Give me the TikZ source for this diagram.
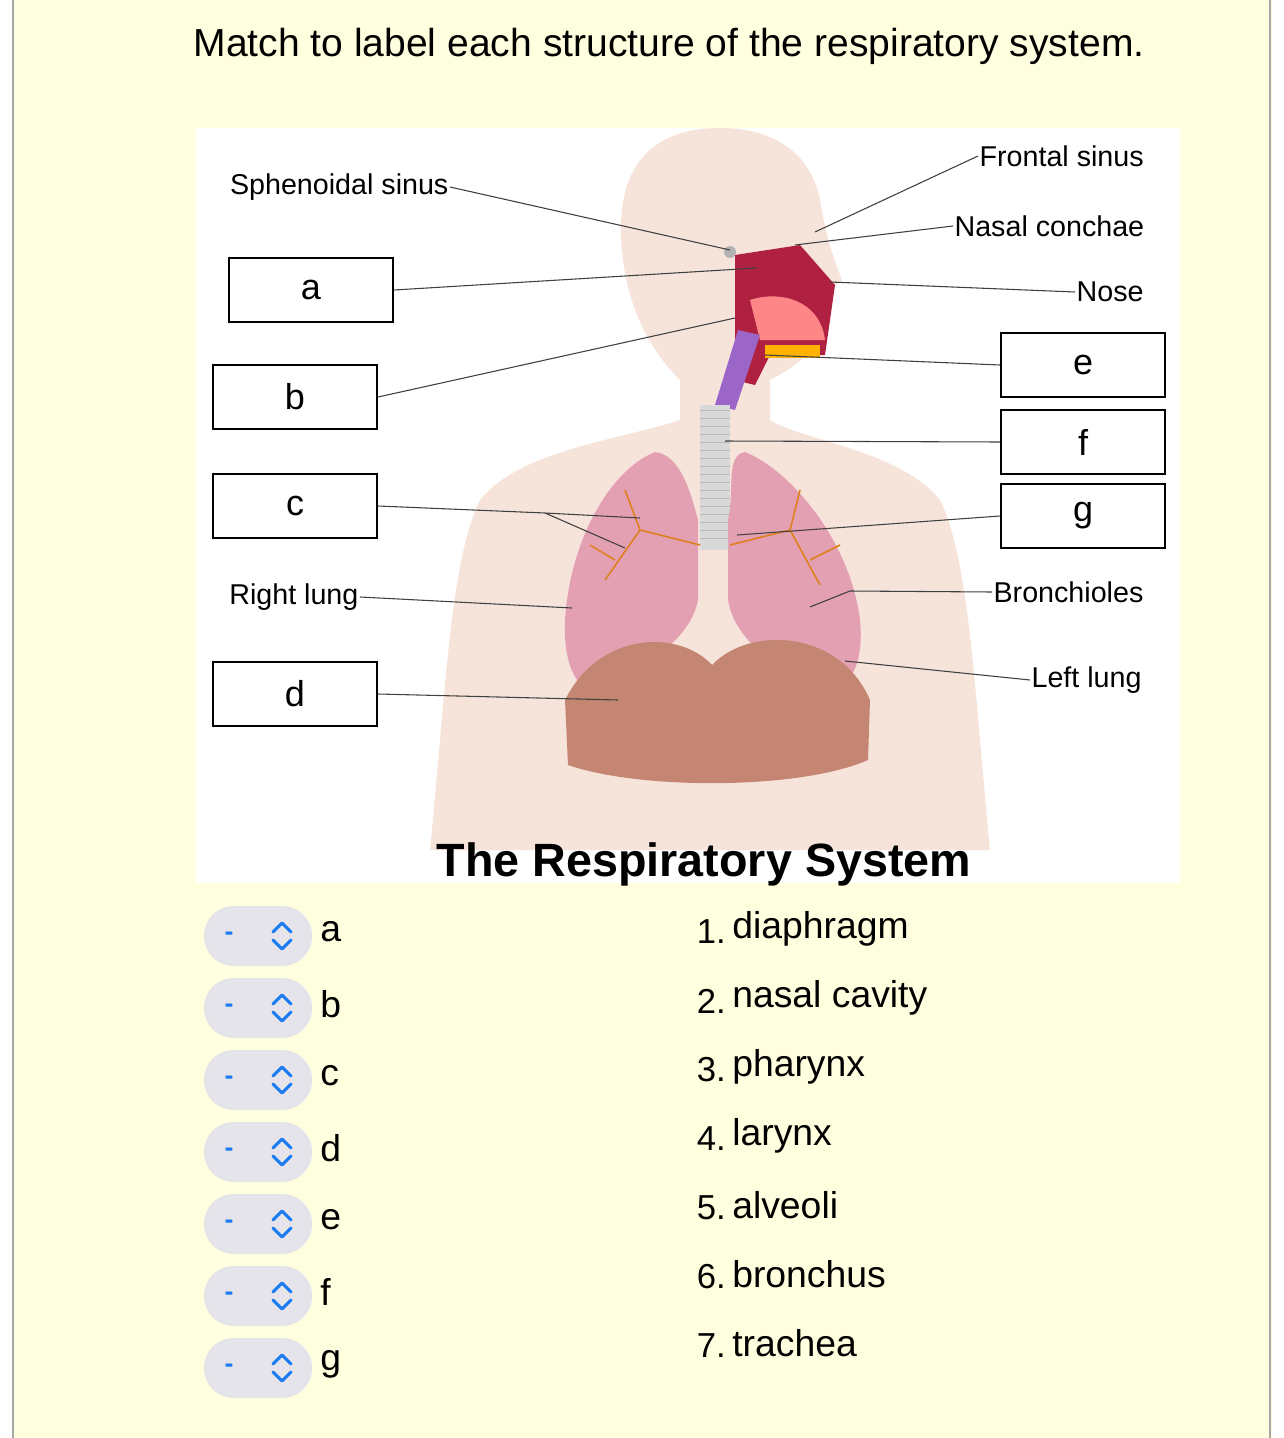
\documentclass[tikz,border=0pt]{standalone}
\usepackage{fontspec}
\setmainfont{Liberation Sans}
\definecolor{bg}{HTML}{FFFFDF}
\definecolor{skin}{HTML}{F6E4DA}
\definecolor{lung}{HTML}{E3A0B2}
\definecolor{diaph}{HTML}{C48672}
\definecolor{pill}{HTML}{E4E4EA}
\definecolor{iosblue}{HTML}{1A7BF2}
\definecolor{nasal}{HTML}{B02040}
\tikzset{lbl/.style={font=\fontsize{21.5}{24}\selectfont,inner sep=1pt},
 lbox/.style={draw,line width=1.6pt,minimum width=123pt,minimum height=48pt,font=\fontsize{27}{30}\selectfont},
 lead/.style={line width=0.8pt,draw=black!75},
 pillbox/.style={fill=pill,rounded corners=22pt,minimum width=81pt,minimum height=45pt},
 opt/.style={font=\fontsize{28}{30}\selectfont,anchor=west,inner sep=0pt},
 num/.style={font=\fontsize{26}{30}\selectfont,anchor=east,inner sep=0pt}}
\begin{document}
\begin{tikzpicture}[x=0.75pt,y=-0.75pt]
\useasboundingbox (0,0) rectangle (1284,1438);
\fill[bg] (0,0) rectangle (1284,1438);
\fill[white] (0,0) rectangle (12,1438);
\fill[white] (1272,0) rectangle (1284,1438);
\draw[gray!70,line width=1.5pt] (13,0) -- (13,1438) (1270,0) -- (1270,1438);
\node[font=\fontsize{29.3}{32}\selectfont] (title) at (669,46) {Match to label each structure of the respiratory system.};
\fill[white] (196,128) rectangle (1180,883);
% body
\fill[skin] (720,128) .. controls (640,128) and (615,180) .. (622,250)
 .. controls (628,320) and (660,360) .. (680,380) -- (680,420)
 .. controls (620,440) and (520,450) .. (480,500)
 .. controls (450,560) and (445,700) .. (430,850) -- (990,850)
 .. controls (975,700) and (970,560) .. (940,500)
 .. controls (900,450) and (800,440) .. (770,420) -- (770,380)
 .. controls (810,360) and (835,330) .. (830,290) -- (842,280)
 .. controls (830,250) and (825,230) .. (820,200)
 .. controls (810,150) and (770,128) .. (720,128) -- cycle;
% nasal / pharynx
\fill[nasal] (735,255) -- (800,245) -- (835,285) -- (825,355) -- (770,355) -- (755,385) -- (735,380) -- cycle;
\fill[pink!70!red] (750,300) .. controls (780,290) and (820,300) .. (825,340) -- (760,340) -- cycle;
\fill[orange!60!yellow] (765,345) rectangle (820,358);
\fill[gray!60] (730,252) circle (6);
% trachea
\fill[blue!30!violet!60] (738,330) -- (760,335) -- (735,410) -- (715,405) -- cycle;
\fill[gray!30] (700,405) rectangle (730,550);
\foreach \y in {410,418,...,545} \draw[gray!55] (700,\y) -- (730,\y);
% lungs
\fill[lung] (655,452) .. controls (610,470) and (570,540) .. (565,620) .. controls (563,670) and (580,700) .. (610,690) .. controls (650,660) and (690,640) .. (698,600) -- (698,520) .. controls (690,490) and (680,455) .. (655,452) -- cycle;
\fill[lung] (745,452) .. controls (790,470) and (850,540) .. (860,620) .. controls (865,670) and (845,700) .. (810,690) .. controls (770,660) and (735,640) .. (728,600) -- (728,520) .. controls (735,490) and (725,455) .. (745,452) -- cycle;
\draw[orange!50!brown,line width=1.2pt] (700,545) -- (640,530) -- (605,580) (640,530) -- (625,490) (615,560) -- (590,545)
 (730,545) -- (790,530) -- (820,585) (790,530) -- (800,490) (810,560) -- (840,545);
% diaphragm
\fill[diaph] (565,700) .. controls (600,630) and (680,630) .. (712,665) .. controls (750,625) and (840,630) .. (870,700) -- (868,760) .. controls (800,790) and (640,790) .. (568,765) -- cycle;
% labels left
\node[lbl,anchor=east] (sph) at (450,187) {Sphenoidal sinus};
\coordinate (sphT) at (730,250); \draw[lead] (sph.east) -- (sphT);
\node[lbox] (a) at (311,290) {a}; \coordinate (aT) at (757,268); \draw[lead] (a.east) -- (aT);
\node[lbox] (b) at (295,397) {b}; \coordinate (bT) at (735,318); \draw[lead] (b.east) -- (bT);
\node[lbox] (c) at (295,506) {c}; \coordinate (cM) at (545,513); \coordinate (cT1) at (640,518); \coordinate (cT2) at (625,548);
\draw[lead] (c.east) -- (cM) -- (cT1) (cM) -- (cT2);
\node[lbl,anchor=east] (rl) at (360,597) {Right lung}; \coordinate (rlT) at (572,608); \draw[lead] (rl.east) -- (rlT);
\node[lbox] (d) at (295,694) {d}; \coordinate (dT) at (618,700); \draw[lead] (d.east) -- (dT);
% labels right
\node[lbl,anchor=west] (fs) at (978,156) {Frontal sinus}; \coordinate (fsT) at (815,232); \draw[lead] (fs.west) -- (fsT);
\node[lbl,anchor=west] (nc) at (953,226) {Nasal conchae}; \coordinate (ncT) at (795,245); \draw[lead] (nc.west) -- (ncT);
\node[lbl,anchor=west] (no) at (1075,292) {Nose}; \coordinate (noT) at (830,282); \draw[lead] (no.west) -- (noT);
\node[lbox] (e) at (1083,365) {e}; \coordinate (eT) at (765,355); \draw[lead] (e.west) -- (eT);
\node[lbox] (f) at (1083,442) {f}; \coordinate (fT) at (725,441); \draw[lead] (f.west) -- (fT);
\node[lbox] (g) at (1083,516) {g}; \coordinate (gT) at (737,535); \draw[lead] (g.west) -- (gT);
\node[lbl,anchor=west] (br) at (992,592) {Bronchioles}; \coordinate (brM) at (850,591); \coordinate (brT) at (810,607); \draw[lead] (br.west) -- (brM) -- (brT);
\node[lbl,anchor=west] (ll) at (1030,680) {Left lung}; \coordinate (llT) at (845,661); \draw[lead] (ll.west) -- (llT);
\node[font=\bfseries\fontsize{35}{38}\selectfont] (rs) at (704,864) {The Respiratory System};
% dropdowns
\foreach \l/\y in {a/936,b/1008,c/1080,d/1152,e/1224,f/1296,g/1368}{
 \node[pillbox] (p\l) at (258,\y) {};
 \node[text=iosblue,font=\bfseries\fontsize{20}{22}\selectfont] (m\l) at (229,\y) {-};
 \draw[iosblue,line width=2.2pt,line cap=round,line join=round] (273,\y-4) -- (282,\y-13) -- (291,\y-4) (273,\y+4) -- (282,\y+13) -- (291,\y+4);
 \node[opt] (o\l) at (320,\y-4) {\l};
}
\foreach \n/\w/\y in {1/diaphragm/929,2/nasal cavity/998,3/pharynx/1067,4/larynx/1136,5/alveoli/1205,6/bronchus/1274,7/trachea/1343}{
 \node[num] (n\n) at (726,\y+3) {\n.};
 \node[opt] (w\n) at (732,\y) {\w};
}
\end{tikzpicture}
\end{document}
